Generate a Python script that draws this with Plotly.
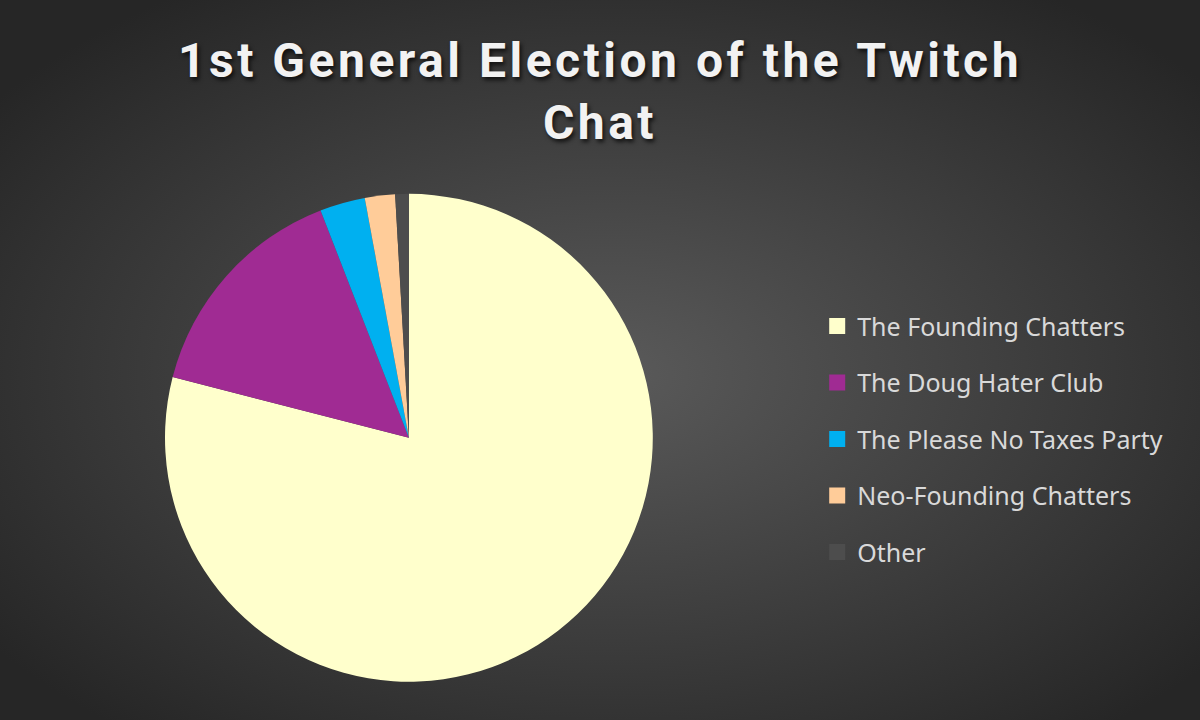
import base64
import plotly.graph_objects as go

# vote share per party (in percent)
parties = ["The Founding Chatters", "The Doug Hater Club", "The Please No Taxes Party",
           "Neo-Founding Chatters", "Other"]
share = [79.0, 15.1, 3.0, 2.0, 0.9]
colors = ["#FFFFCC", "#A02B93", "#00B0F0", "#FFCC99", "#4D4D4D"]

# dark radial background, like the office chart style
svg = ("<svg xmlns='http://www.w3.org/2000/svg' width='1200' height='720'>"
       "<defs><radialGradient id='g' cx='51%' cy='52%' r='64%'>"
       "<stop offset='0' stop-color='#5a5a5a'/><stop offset='1' stop-color='#262626'/>"
       "</radialGradient></defs><rect width='1200' height='720' fill='url(#g)'/></svg>")
bg = "data:image/svg+xml;base64," + base64.b64encode(svg.encode()).decode()

fig = go.Figure(go.Pie(
    labels=parties,
    values=share,
    sort=False,
    direction="clockwise",
    rotation=0,
    textinfo="none",
    hoverinfo="label+percent",
    showlegend=False,
    marker=dict(colors=colors, line=dict(width=0)),
    domain=dict(x=[0.1375, 0.544], y=[0.053, 0.731]),
))

# legend entries as empty marker traces, so the row spacing can be set
for name, c in zip(parties, colors):
    fig.add_trace(go.Scatter(x=[None], y=[None], mode="markers", name=name,
                             legendgroup=name, hoverinfo="skip",
                             marker=dict(symbol="square", size=16, color=c)))

fig.update_layout(
    width=1200, height=720,
    margin=dict(l=0, r=0, t=0, b=0),
    paper_bgcolor="#3a3a3a",
    plot_bgcolor="rgba(0,0,0,0)",
    xaxis=dict(visible=False),
    yaxis=dict(visible=False),
    title=dict(
        text="1st General Election of the Twitch<br>Chat",
        x=0.5, xanchor="center", y=0.893, yanchor="top",
        font=dict(family="Roboto", size=48, color="#f2f2f2", weight="bold",
                  shadow="2px 3px 4px rgba(0,0,0,0.7)"),
    ),
    legend=dict(
        x=0.681, y=0.39, xanchor="left", yanchor="middle",
        font=dict(family="Noto Sans", size=25, color="#d9d9d9"),
        bgcolor="rgba(0,0,0,0)",
        tracegroupgap=21,
    ),
    images=[dict(source=bg, xref="paper", yref="paper", x=0, y=1, sizex=1, sizey=1,
                 sizing="stretch", layer="below")],
)

js = ("document.body.style.margin='0';"
      "document.querySelectorAll('.gtitle').forEach(function(e){e.style.letterSpacing='3.5px';});")
fig.write_html("out.html", post_script=js, config={"displayModeBar": False})
